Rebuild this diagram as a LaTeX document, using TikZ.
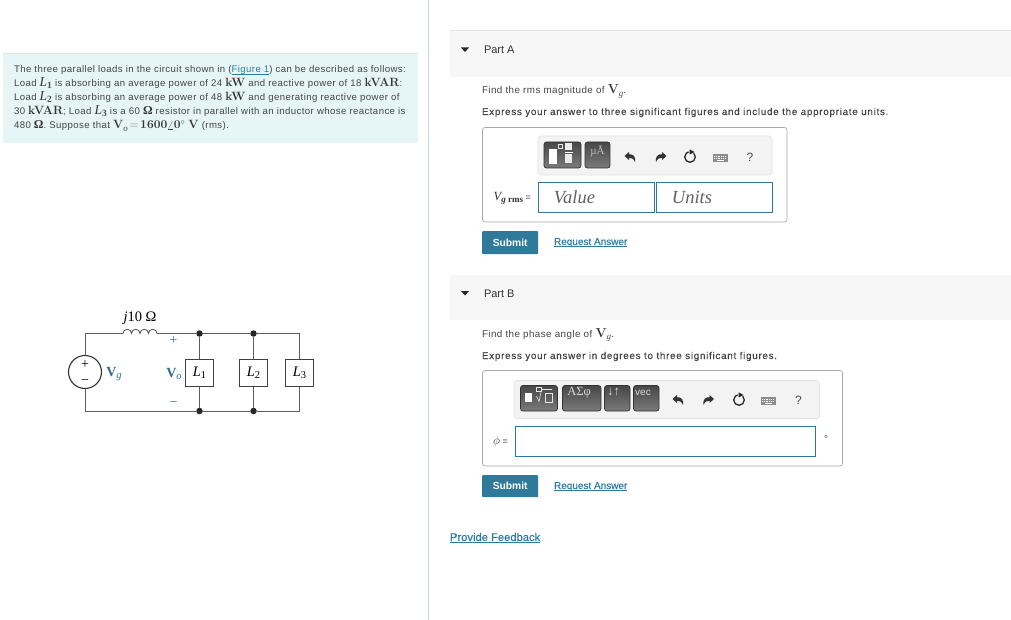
\documentclass[tikz,border=0pt]{standalone}
\usepackage{fontspec}
\newfontfamily\ar[LetterSpace=4.4]{Liberation Sans}
\newfontfamily\arw[LetterSpace=4.5]{Liberation Sans}
\newfontfamily\arx[LetterSpace=7.6,FakeBold=0.3]{Liberation Sans}
\newfontfamily\arb{Liberation Sans}
\newfontfamily\arl[FakeBold=0.25]{Liberation Sans}
\newfontfamily\tms{Liberation Serif}
\definecolor{panel}{HTML}{E6F5F5}
\definecolor{panelline}{HTML}{DDE6E6}
\definecolor{band}{HTML}{F7F7F7}
\definecolor{bandline}{HTML}{E3E3E3}
\definecolor{teal}{HTML}{2F7A9B}
\definecolor{linkc}{HTML}{2A7CA3}
\definecolor{txtc}{HTML}{444444}
\definecolor{divider}{HTML}{C4D6E0}
\definecolor{wire}{HTML}{5E5E5E}
\definecolor{bluet}{HTML}{2F6C8E}
\definecolor{boxline}{HTML}{A8A8A8}
\definecolor{tool}{HTML}{F3F3F3}
\definecolor{toolline}{HTML}{E2E2E2}
\newcommand{\lmb}[1]{{\rmfamily\bfseries\fontsize{12}{12}\selectfont\textcolor{black!80}{#1}}}
\newcommand{\omg}{{\tms\bfseries\fontsize{12}{12}\selectfont\textcolor{black!80}{Ω}}}
\newcommand{\lsub}[1]{{\tms\itshape\fontsize{13.5}{12}\selectfont\textcolor{black!80}{L}}\raisebox{-2pt}{\tms\bfseries\fontsize{9.5}{9}\selectfont\textcolor{black!70}{#1}}}
\newcommand{\lmv}{{\rmfamily\bfseries\fontsize{13}{12}\selectfont\textcolor{black!80}{V}}}
\newcommand{\gsub}[1]{\raisebox{-2.5pt}{\tms\itshape\fontsize{9}{9}\selectfont\textcolor{black!70}{#1}}}
\newcommand{\cl}[1]{{\tms\itshape\fontsize{14.5}{15}\selectfont L}\raisebox{-2.5pt}{\tms\fontsize{10.5}{10}\selectfont #1}}
\newcommand{\cv}[1]{{\tms\bfseries\fontsize{14}{15}\selectfont V}\raisebox{-2.5pt}{\tms\itshape\fontsize{10.5}{10}\selectfont #1}}
\tikzset{
  x=1pt,y=-1pt,
  body/.style={anchor=base west,inner sep=0pt,outer sep=0pt,font=\ar\fontsize{9.6}{11}\selectfont,text=txtc},
  bodyw/.style={anchor=base west,inner sep=0pt,outer sep=0pt,font=\arw\fontsize{9.8}{11}\selectfont,text=txtc},
  bold/.style={anchor=base west,inner sep=0pt,outer sep=0pt,font=\arx\fontsize{9.8}{11}\selectfont,text=txtc},
  head/.style={anchor=base west,inner sep=0pt,outer sep=0pt,font=\arb\fontsize{11}{12}\selectfont,text=black!80},
  linktext/.style={anchor=base west,inner sep=0pt,outer sep=0pt,font=\arl\fontsize{10}{12}\selectfont,text=linkc},
  ul/.style={draw=linkc,line width=.7pt},
  subm/.style={fill=teal,draw=none,rounded corners=0.8pt},
  subt/.style={inner sep=0pt,font=\arb\bfseries\fontsize{10.3}{12}\selectfont,text=white},
  tbtn/.style={draw=black!80,rounded corners=2.5pt,line width=.7pt,top color=black!72,bottom color=black!52},
  field/.style={draw=teal,fill=white,line width=.8pt,outer sep=0pt,inner sep=0pt,anchor=north west},
  outerbox/.style={draw=boxline,fill=white,rounded corners=2.5pt,line width=.7pt},
  toolbar/.style={draw=toolline,fill=tool,rounded corners=3pt,line width=.6pt},
  ph/.style={inner sep=0pt,font=\tms\itshape\fontsize{18.5}{20}\selectfont,text=black!62},
  wr/.style={draw=wire,line width=1pt},
  jdot/.style={circle,fill=black!85,inner sep=0pt,minimum size=6.5pt},
  load/.style={draw=black!75,fill=white,line width=.9pt,minimum width=27.5pt,minimum height=27.5pt,inner sep=0pt},
  ct/.style={inner sep=0pt,font=\tms\fontsize{14}{15}\selectfont},
  tri/.style={fill=black!85,draw=none}
}
\newcommand{\undoicon}[1]{\fill[black!80,shift={#1}] (-5.5,-1) -- (-1,-5) -- (-1,-2.8) .. controls (3,-3) and (6,-0.5) .. (5,5) .. controls (3.5,1.5) and (1.5,0.6) .. (-1,0.8) -- (-1,3) -- cycle;}
\newcommand{\redoicon}[1]{\fill[black!80,shift={#1}] (5.5,-1) -- (1,-5) -- (1,-2.8) .. controls (-3,-3) and (-6,-0.5) .. (-5,5) .. controls (-3.5,1.5) and (-1.5,0.6) .. (1,0.8) -- (1,3) -- cycle;}
\newcommand{\keyicon}[1]{\begin{scope}[shift={#1}]\fill[black!45] (-7.5,-4) rectangle (7.5,4);\draw[white,line width=.5pt,dash pattern=on .9pt off .9pt] (-6,-1.8) -- (6,-1.8) (-6,0.2) -- (6,0.2);\draw[white,line width=.5pt] (-3.5,2.2) -- (3.5,2.2);\end{scope}}
\newcommand{\reloadicon}[1]{\begin{scope}[shift={#1}]\draw[black!85,line width=1.3pt] (3.75,-3.75) arc[start angle=45,end angle=-255,radius=5.3pt];\fill[black!85] (-0.5,-7.7) -- (4.5,-5) -- (-0.5,-2.5) -- cycle;\end{scope}}
\begin{document}
\begin{tikzpicture}
\useasboundingbox[fill=white] (0,0) rectangle (1011,620);
% left panel
\fill[panel] (3,53) rectangle (418,143);
\draw[panelline,line width=.6pt] (3,53) -- (418,53);
\draw[divider,line width=.8pt] (428.5,0) -- (428.5,620);
\node[body] (t1a) at (14,73) {The three parallel loads in the circuit shown in (};
\node[body,text=linkc] (t1b) at (t1a.base east) {Figure 1};
\draw[ul] ([yshift=-1.3pt]t1b.base west) -- ([yshift=-1.3pt]t1b.base east);
\node[body] (t1c) at (t1b.base east) {) can be described as follows:};
\node[body] (t2) at (14,87) {Load \lsub{1} is absorbing an average power of 24 \lmb{kW} and reactive power of 18 \lmb{kVAR}:};
\node[body] (t3) at (14,101) {Load \lsub{2} is absorbing an average power of 48 \lmb{kW} and generating reactive power of};
\node[body] (t4) at (14,115) {30 \lmb{kVAR}; Load \lsub{3} is a 60 \omg{} resistor in parallel with an inductor whose reactance is};
\node[body] (t5) at (14,129) {480 \omg. Suppose that \lmb{V}\gsub{o}\,\textcolor{black!50}{\fontsize{12}{12}\selectfont$=$}\,\lmb{1600}{\fontsize{12}{12}\selectfont$\angle$}\lmb{0}{\fontsize{12}{12}\selectfont$^\circ$} \lmb{V} (rms).};
% circuit
\node[circle,draw=black!80,fill=white,line width=1.1pt,minimum size=33pt,inner sep=0pt] (src) at (85,372) {};
\node[ct,font=\tms\fontsize{14}{15}\selectfont] (sp) at (85,364.5) {+};
\node[ct,font=\tms\fontsize{14}{15}\selectfont] (sm) at (85,382) {−};
\coordinate (tl) at (85,333.5);
\coordinate (bl) at (85,411);
\coordinate (ia) at (123,333.5);
\coordinate (ib) at (157,333.5);
\node[jdot] (d1t) at (199.5,333.5) {};
\node[jdot] (d2t) at (253.5,333.5) {};
\node[jdot] (d1b) at (199.5,411) {};
\node[jdot] (d2b) at (253.5,411) {};
\coordinate (tr) at (299.5,333.5);
\coordinate (br) at (299.5,411);
\node[load] (l1) at (199.5,373) {\cl{1}};
\node[load] (l2) at (253.5,373) {\cl{2}};
\node[load] (l3) at (299.5,373) {\cl{3}};
\draw[wr] (src.north) -- (tl) -- (ia);
\draw[wr] (ib) -- (d1t) -- (d2t) -- (tr) -- (l3.north);
\draw[wr] (src.south) -- (bl) -- (d1b) -- (d2b) -- (br) -- (l3.south);
\draw[wr] (d1t) -- (l1.north) (d1b) -- (l1.south) (d2t) -- (l2.north) (d2b) -- (l2.south);
\draw[wr,line width=.9pt] (ia) arc[start angle=180,end angle=0,radius=4.25pt] arc[start angle=180,end angle=0,radius=4.25pt] arc[start angle=180,end angle=0,radius=4.25pt] arc[start angle=180,end angle=0,radius=4.25pt];
\node[ct,font=\tms\fontsize{14.5}{15}\selectfont] (jten) at (140,318.5) {\textit{j}10 Ω};
\node[ct,text=bluet] (vop) at (173.5,341) {+};
\node[ct,text=bluet] (vom) at (173.5,404) {−};
\node[ct,text=bluet] (vo) at (174,374) {\cv{o}};
\node[ct,text=bluet] (vg) at (114,374) {\cv{g}};
% Part A
\fill[band] (450,30) rectangle (1011,77);
\draw[bandline,line width=.6pt] (450,30.3) -- (1011,30.3);
\fill[tri] (461,47.5) -- (469,47.5) -- (465,52) -- cycle;
\node[head] (pa) at (484,53.5) {Part A};
\node[bodyw] (fa) at (482,94) {Find the rms magnitude of \lmv\gsub{g}.};
\node[bold] (ea) at (482,115) {Express your answer to three significant figures and include the appropriate units.};
\path[outerbox] (482.5,127.5) rectangle (787,222);
\path[toolbar] (538,136) rectangle (772,175);
\path[tbtn] (544,142) rectangle (581,168);
\path[tbtn] (585,142) rectangle (610,168);
\fill[white] (549,149) rectangle (557,164);
\draw[white!90!black,line width=.6pt] (558.5,144) rectangle (562.5,148);
\fill[white!92!black] (565,143.5) rectangle (572,150.5);
\draw[white,line width=.6pt] (564.5,152.5) -- (572.5,152.5);
\fill[white!92!black] (565,154.5) rectangle (572,163);
\node[inner sep=0pt,text=black!25,font=\tms\fontsize{11}{12}\selectfont] (mua) at (597.5,151) {µÅ};
\undoicon{(630,157)}
\redoicon{(661,157)}
\reloadicon{(690,157)}
\keyicon{(720,158)}
\node[inner sep=0pt,font=\arb\fontsize{12}{14}\selectfont,text=black!70] (qa) at (750,157) {?};
\node[inner sep=0pt,anchor=base east,font=\arb\fontsize{9}{12}\selectfont,text=black!80] (va) at (531,201) {{\tms\itshape\fontsize{12.5}{12}\selectfont V}\raisebox{-2pt}{\tms\bfseries\fontsize{9}{9}\selectfont\textit{g} rms} =};
\node[field,minimum width=116.4pt,minimum height=30.4pt] (fv) at (538.3,182.3) {};
\node[field,minimum width=116.4pt,minimum height=30.4pt] (fu) at (656.3,182.3) {};
\node[ph] (pv) at (574.5,197.5) {Value};
\node[ph] (pu) at (692,197.5) {Units};
\node[subm,minimum width=56pt,minimum height=23pt,inner sep=0pt,anchor=north west,subt] (sa) at (482,231) {Submit};
\node[linktext] (ra) at (554,245) {Request Answer};
\draw[ul] ([yshift=-1.3pt]ra.base west) -- ([yshift=-1.3pt]ra.base east);
% Part B
\fill[band] (450,275) rectangle (1011,320);
\fill[tri] (461,291) -- (469,291) -- (465,295.5) -- cycle;
\node[head] (pb) at (484,297) {Part B};
\node[bodyw] (fb) at (482,337) {Find the phase angle of \lmv\gsub{g}.};
\node[bold] (eb) at (482,359) {Express your answer in degrees to three significant figures.};
\path[outerbox] (482.5,370.5) rectangle (842.5,466);
\path[toolbar] (514,380.5) rectangle (819.5,418.5);
\path[tbtn] (520.5,385.5) rectangle (557.5,411);
\path[tbtn] (562.5,385.5) rectangle (601,411);
\path[tbtn] (604.5,385.5) rectangle (630,411);
\path[tbtn] (633.5,385.5) rectangle (659,411);
\fill[white] (525,392.5) rectangle (532,402);
\draw[white!90!black,line width=.6pt] (536.5,387) rectangle (541,391.5) (545.5,393) rectangle (552,402.5);
\draw[white!90!black,line width=.6pt] (536.5,396) -- (539,401.5) -- (541.5,389.5) -- (552,389.5);
\node[inner sep=0pt,text=white!85!black,font=\tms\fontsize{12.5}{14}\selectfont] (abg) at (579,393) {ΑΣφ};
\node[inner sep=0pt,text=white!85!black,font=\arb\fontsize{13}{14}\selectfont] (arr) at (613.5,392.5) {↓↑};
\node[inner sep=0pt,text=white!85!black,font=\arb\fontsize{10}{12}\selectfont] (vecn) at (643,392.5) {vec};
\undoicon{(678,400)}
\redoicon{(708.5,400)}
\reloadicon{(739,400)}
\keyicon{(768,401)}
\node[inner sep=0pt,font=\arb\fontsize{12}{14}\selectfont,text=black!70] (qb) at (798.5,400) {?};
\node[inner sep=0pt,anchor=base east,font=\arb\fontsize{9}{12}\selectfont,text=black!80] (phi) at (508,444.5) {{\fontsize{12}{12}\selectfont$\phi$} =};
\node[field,minimum width=300.7pt,minimum height=29.6pt] (fp) at (515,426.7) {};
\node[inner sep=0pt,text=black!70,font=\arb\fontsize{10}{11}\selectfont] (deg) at (826,439.5) {°};
\node[subm,minimum width=56pt,minimum height=22pt,inner sep=0pt,anchor=north west,subt] (sb) at (482,475) {Submit};
\node[linktext] (rb) at (554,489) {Request Answer};
\draw[ul] ([yshift=-1.3pt]rb.base west) -- ([yshift=-1.3pt]rb.base east);
\node[linktext,font=\arl\fontsize{11.2}{13}\selectfont] (pf) at (450,541) {Provide Feedback};
\draw[ul] ([yshift=-1.3pt]pf.base west) -- ([yshift=-1.3pt]pf.base east);
\end{tikzpicture}
\end{document}
